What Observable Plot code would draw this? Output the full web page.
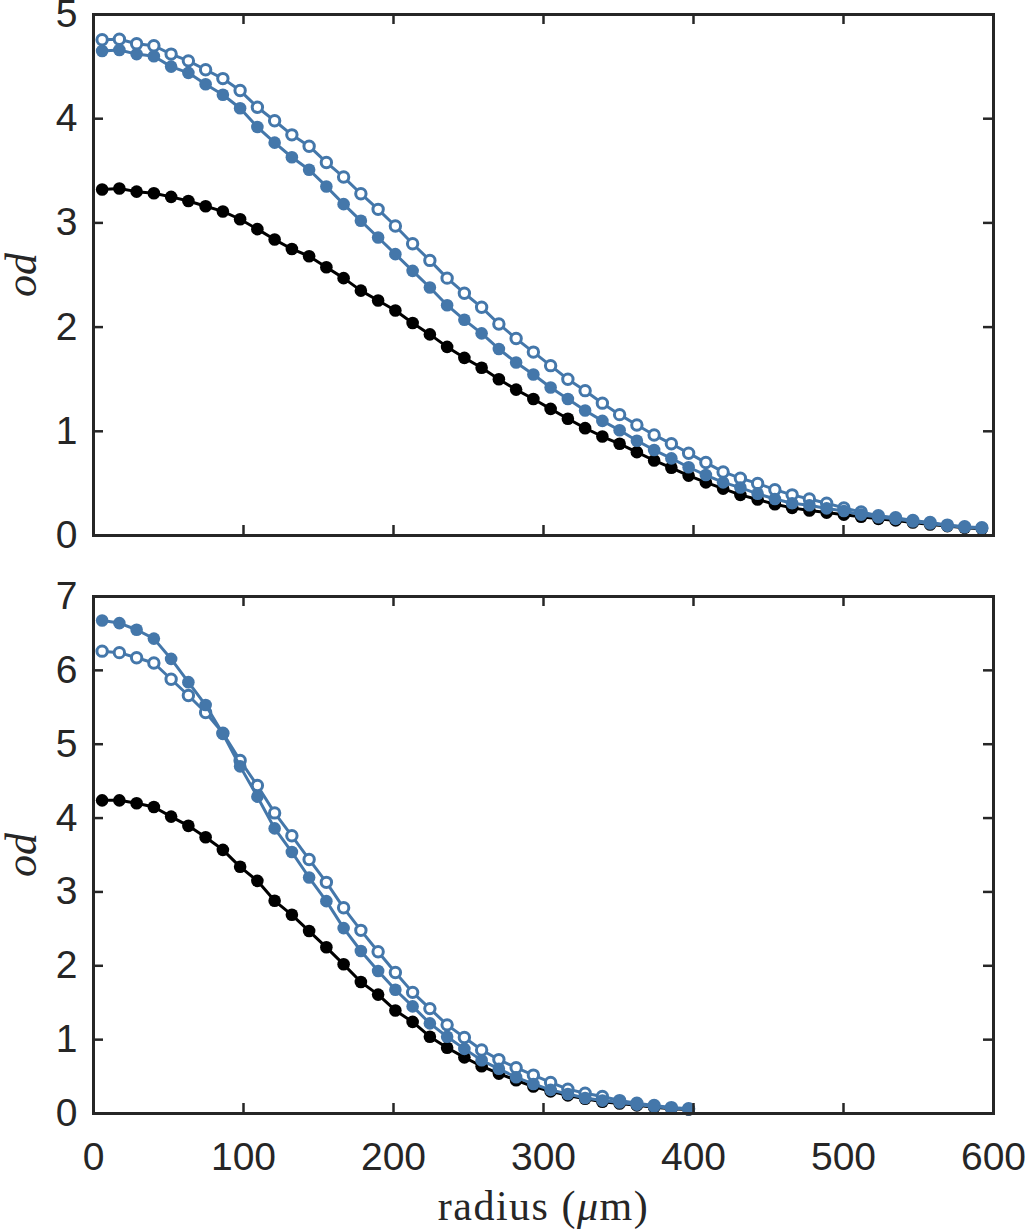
<!DOCTYPE html>
<html><head><meta charset="utf-8">
<script src="https://cdn.jsdelivr.net/npm/d3@7"></script>
<script src="https://cdn.jsdelivr.net/npm/@observablehq/plot@0.6"></script>
<style>
body{margin:0;background:#fff}
#chart{position:relative;width:1025px;height:1230px}
#chart svg{position:absolute;left:0}
</style>
</head><body><div id="chart"></div>
<script>
// radius bin centres (µm)
const radius = [5.75, 17.25, 28.75, 40.25, 51.75, 63.25, 74.75, 86.25, 97.75, 109.25,
  120.75, 132.25, 143.75, 155.25, 166.75, 178.25, 189.75, 201.25, 212.75, 224.25,
  235.75, 247.25, 258.75, 270.25, 281.75, 293.25, 304.75, 316.25, 327.75, 339.25,
  350.75, 362.25, 373.75, 385.25, 396.75, 408.25, 419.75, 431.25, 442.75, 454.25,
  465.75, 477.25, 488.75, 500.25, 511.75, 523.25, 534.75, 546.25, 557.75, 569.25,
  580.75, 592.25];

// top panel
const topBlack = [3.32, 3.33, 3.30, 3.285, 3.25, 3.21, 3.16, 3.11, 3.035, 2.94,
  2.84, 2.75, 2.68, 2.575, 2.47, 2.35, 2.255, 2.16, 2.04, 1.93,
  1.81, 1.705, 1.61, 1.50, 1.40, 1.31, 1.215, 1.12, 1.03, 0.95,
  0.88, 0.80, 0.72, 0.65, 0.575, 0.51, 0.45, 0.39, 0.345, 0.30,
  0.265, 0.24, 0.22, 0.20, 0.18, 0.16, 0.145, 0.125, 0.105, 0.09,
  0.075, 0.065];
const topFilled = [4.65, 4.66, 4.62, 4.60, 4.50, 4.44, 4.33, 4.23, 4.10, 3.92,
  3.77, 3.63, 3.51, 3.35, 3.18, 3.02, 2.86, 2.70, 2.54, 2.38,
  2.21, 2.07, 1.94, 1.79, 1.66, 1.545, 1.42, 1.31, 1.20, 1.10,
  1.01, 0.91, 0.82, 0.74, 0.655, 0.58, 0.51, 0.46, 0.40, 0.35,
  0.31, 0.29, 0.26, 0.235, 0.20, 0.175, 0.16, 0.135, 0.115, 0.095,
  0.08, 0.07];
const topOpen = [4.757, 4.763, 4.72, 4.70, 4.62, 4.555, 4.47, 4.385, 4.27, 4.11,
  3.98, 3.845, 3.736, 3.58, 3.44, 3.28, 3.13, 2.97, 2.80, 2.64,
  2.47, 2.325, 2.19, 2.03, 1.89, 1.76, 1.63, 1.50, 1.39, 1.27,
  1.16, 1.06, 0.965, 0.88, 0.79, 0.70, 0.61, 0.55, 0.50, 0.44,
  0.39, 0.35, 0.31, 0.265, 0.225, 0.19, 0.17, 0.145, 0.125, 0.10,
  0.085, 0.075];

// bottom panel
const botBlack = [4.24, 4.24, 4.20, 4.15, 4.02, 3.895, 3.74, 3.57, 3.34, 3.15,
  2.88, 2.69, 2.47, 2.25, 2.02, 1.78, 1.61, 1.395, 1.24, 1.04,
  0.89, 0.76, 0.64, 0.54, 0.45, 0.365, 0.30, 0.245, 0.20, 0.16,
  0.135, 0.11, 0.085, 0.065, 0.055];
const botFilled = [6.675, 6.64, 6.55, 6.43, 6.155, 5.84, 5.53, 5.14, 4.70, 4.29,
  3.86, 3.54, 3.195, 2.875, 2.51, 2.20, 1.93, 1.675, 1.45, 1.22,
  1.04, 0.875, 0.72, 0.605, 0.49, 0.40, 0.32, 0.265, 0.21, 0.175,
  0.15, 0.12, 0.095, 0.07, 0.06];
const botOpen = [6.26, 6.24, 6.17, 6.10, 5.88, 5.66, 5.43, 5.15, 4.78, 4.44,
  4.07, 3.76, 3.44, 3.13, 2.785, 2.48, 2.19, 1.91, 1.64, 1.42,
  1.20, 1.03, 0.86, 0.73, 0.62, 0.52, 0.42, 0.33, 0.275, 0.23,
  0.175, 0.14, 0.11, 0.08, 0.065];

const xTicks = [0, 100, 200, 300, 400, 500, 600];
const topYTicks = [0, 1, 2, 3, 4, 5];
const botYTicks = [0, 1, 2, 3, 4, 5, 6, 7];
const xLabel = "radius (μm)";
const yLabel = "od";

const blue = "#4477aa";
const axc = "#262626";

function rows(vals) { return vals.map((v, i) => ({r: radius[i], od: v})); }

function panel({black, filled, open, yMax, yTicks, height, marginTop, marginBottom, showX}) {
  const plotH = height - marginTop - marginBottom;
  const plotW = 1025 - 93 - 32;
  const tl = 10;
  const marks = [
    Plot.line(rows(black), {x: "r", y: "od", stroke: "black", strokeWidth: 3}),
    Plot.dot(rows(black), {x: "r", y: "od", fill: "black", r: 6.3}),
    Plot.line(rows(open), {x: "r", y: "od", stroke: blue, strokeWidth: 3}),
    Plot.dot(rows(open), {x: "r", y: "od", fill: "white", stroke: blue, strokeWidth: 3, r: 5.2}),
    Plot.line(rows(filled), {x: "r", y: "od", stroke: blue, strokeWidth: 3}),
    Plot.dot(rows(filled), {x: "r", y: "od", fill: blue, r: 6.3}),
    Plot.tickX(xTicks, {x: d => d, stroke: axc, strokeWidth: 2.5, insetTop: plotH - tl}),
    Plot.tickX(xTicks, {x: d => d, stroke: axc, strokeWidth: 2.5, insetBottom: plotH - tl}),
    Plot.tickY(yTicks, {y: d => d, stroke: axc, strokeWidth: 2.5, insetRight: plotW - tl}),
    Plot.tickY(yTicks, {y: d => d, stroke: axc, strokeWidth: 2.5, insetLeft: plotW - tl}),
    Plot.frame({stroke: axc, strokeWidth: 3}),
    Plot.axisY(yTicks, {anchor: "left", tickSize: 0, tickPadding: 16, fontSize: 39, label: null, tickFormat: d => String(d)}),
    Plot.text([yLabel], {frameAnchor: "left", text: d => d, dx: -72, rotate: -90,
      textAnchor: "middle", lineAnchor: "middle",
      fontFamily: "Liberation Serif, serif", fontStyle: "italic", fontSize: 44, fill: axc})
  ];
  if (showX) {
    marks.push(
      Plot.axisX(xTicks, {anchor: "bottom", tickSize: 0, tickPadding: 29, fontSize: 39, label: null, tickFormat: d => String(d)}),
      Plot.text([xLabel], {frameAnchor: "bottom", text: d => d, dy: 93,
        textAnchor: "middle", lineAnchor: "middle",
        fontFamily: "Liberation Serif, serif", fontSize: 42, fill: axc})
    );
  }
  return Plot.plot({
    width: 1025, height, marginLeft: 93, marginRight: 32, marginTop, marginBottom,
    x: {domain: [0, 600], axis: null},
    y: {domain: [0, yMax], axis: null},
    style: {background: "white", color: axc, fontFamily: "Liberation Sans, Arial, sans-serif", overflow: "visible"},
    marks
  });
}

const chart = document.getElementById("chart");
const top1 = panel({black: topBlack, filled: topFilled, open: topOpen, yMax: 5, yTicks: topYTicks,
  height: 565, marginTop: 14, marginBottom: 30, showX: false});
top1.style.top = "0px";
const bot = panel({black: botBlack, filled: botFilled, open: botOpen, yMax: 7, yTicks: botYTicks,
  height: 665, marginTop: 31, marginBottom: 117, showX: true});
bot.style.top = "565px";
chart.appendChild(top1);
chart.appendChild(bot);

// italic µ in the x label
bot.querySelectorAll("text").forEach(t => {
  if (t.textContent === xLabel) {
    t.textContent = "";
    t.setAttribute("letter-spacing", "1.5");
    const ns = "http://www.w3.org/2000/svg";
    const a = document.createElementNS(ns, "tspan"); a.textContent = "radius (";
    const b = document.createElementNS(ns, "tspan"); b.textContent = "μ"; b.setAttribute("font-style", "italic");
    const c = document.createElementNS(ns, "tspan"); c.textContent = "m)";
    t.append(a, b, c);
  }
});
</script>
</body></html>
